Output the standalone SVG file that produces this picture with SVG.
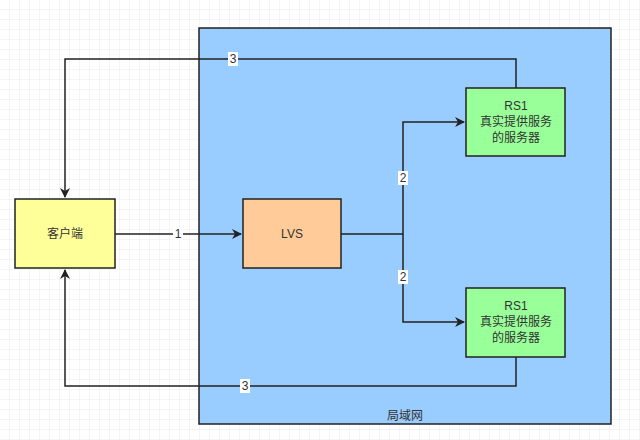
<svg xmlns="http://www.w3.org/2000/svg" width="640" height="440" viewBox="0 0 640 440">
<defs>
<pattern id="g" width="10" height="10" patternUnits="userSpaceOnUse"><path d="M10 0V10H0" fill="none" stroke="#ebebeb" stroke-width="1"/></pattern>
<marker id="a" markerWidth="10" markerHeight="10" refX="9" refY="5" orient="auto" markerUnits="userSpaceOnUse"><path d="M0 0L10 5L0 10L3 5Z" fill="#222"/></marker>
<style>
text{font-family:"Liberation Sans","Noto Sans CJK SC",sans-serif;font-size:12px;fill:#333;text-anchor:middle}
.n{stroke:#222;stroke-width:1.5}
.c{fill:none;stroke:#222;stroke-width:1.5}
.l{fill:#fff}
</style>
</defs>
<rect width="640" height="440" fill="#fff"/>
<rect width="640" height="440" fill="url(#g)"/>
<g id="lan"><rect x="199" y="28" width="412" height="396" fill="#99ccff" class="n"/><text x="405" y="420">局域网</text></g>
<g id="conn">
<path class="c" d="M115 234H241" marker-end="url(#a)"/>
<path class="c" d="M341 234H403V122H464" marker-end="url(#a)"/>
<path class="c" d="M403 234V322H464" marker-end="url(#a)"/>
<path class="c" d="M516 88V59H65V197" marker-end="url(#a)"/>
<path class="c" d="M516 357V386H65V270" marker-end="url(#a)"/>
<rect class="l" x="173" y="227" width="10" height="14"/><text x="178" y="238">1</text>
<rect class="l" x="398" y="171" width="10" height="14"/><text x="403" y="182">2</text>
<rect class="l" x="398" y="270" width="10" height="14"/><text x="403" y="281">2</text>
<rect class="l" x="228" y="52" width="10" height="14"/><text x="233" y="63">3</text>
<rect class="l" x="240" y="379" width="10" height="14"/><text x="245" y="390">3</text>
</g>
<g id="client"><rect x="15" y="199" width="100" height="69" fill="#ffff99" class="n"/><text x="65" y="238">客户端</text></g>
<g id="lvs"><rect x="243" y="199" width="98" height="69" fill="#ffcc99" class="n"/><text x="292" y="238">LVS</text></g>
<g id="rs1"><rect x="466" y="88" width="99" height="68" fill="#99ff99" class="n"/><text x="516" y="110">RS1</text><text x="516" y="126">真实提供服务</text><text x="516" y="142">的服务器</text></g>
<g id="rs2"><rect x="466" y="288" width="99" height="69" fill="#99ff99" class="n"/><text x="516" y="310">RS1</text><text x="516" y="326">真实提供服务</text><text x="516" y="342">的服务器</text></g>
</svg>
